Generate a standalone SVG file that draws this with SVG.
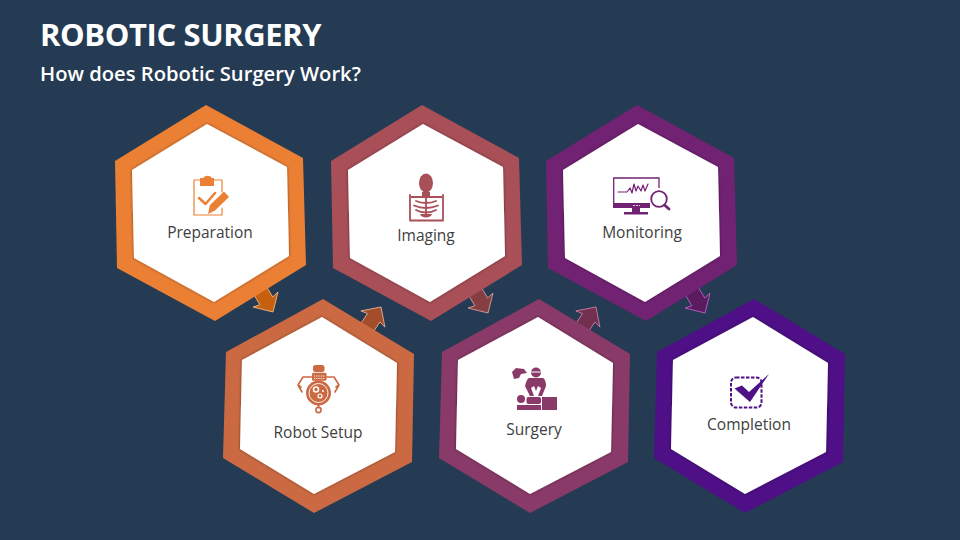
<svg xmlns="http://www.w3.org/2000/svg" xmlns:xlink="http://www.w3.org/1999/xlink" width="960" height="540" viewBox="0 0 960 540">
<style>
.title{font-family:"Open Sans","Liberation Sans",sans-serif;fill:#fff;font-weight:700}
.label{font-family:"Open Sans","Liberation Sans",sans-serif;font-size:15.5px;fill:#404040;text-anchor:middle}
.arrow{stroke-width:.8}
.line{fill:none;stroke-linecap:round;stroke-linejoin:round}
.inner{fill:#fff;filter:url(#edge)}
</style>
<defs>
<polygon id="outer" points="91,0 188,53 191,160 100,216 2,163 0,56"/>
<polygon id="inner" points="92,19 172,62 174,151 99,197 19,153 17,65"/>
<polygon id="outer2" points="100,0 191,55 189,163 91,214 0,159 3,53"/>
<polygon id="inner2" points="99,18 174,64 172,153 91,195 17,150 19,61"/>
<polygon id="arr" points="0,0 -14.500,14.500 -13,7.500 -32,7.500 -32,-7.500 -13,-7.500 -14.500,-14.500"/>
<filter id="edge" x="-10%" y="-10%" width="120%" height="120%">
<feDropShadow dx="0" dy="0" stdDeviation="1.800" flood-color="#000" flood-opacity=".5"/>
</filter>
</defs>
<rect width="960" height="540" fill="#253B54"/>
<text class="title" x="40" y="46" font-size="31" letter-spacing="-.4">ROBOTIC SURGERY</text>
<text class="title" x="40" y="81" font-size="20.200" style="font-weight:600">How does Robotic Surgery Work?</text>

<g id="connectors">
<use xlink:href="#arr" class="arrow" transform="translate(273,312) rotate(59)" fill="#C5600F" stroke="#F2B98C"/>
<use xlink:href="#arr" class="arrow" transform="translate(381,307) rotate(-56)" fill="#A34D2A" stroke="#E8B39A"/>
<use xlink:href="#arr" class="arrow" transform="translate(488,313) rotate(59)" fill="#853F42" stroke="#D8A09A"/>
<use xlink:href="#arr" class="arrow" transform="translate(596,307) rotate(-56)" fill="#722F50" stroke="#D080A8"/>
<use xlink:href="#arr" class="arrow" transform="translate(705,313) rotate(59)" fill="#5A1C5E" stroke="#C060C8"/>
</g>

<g id="node-preparation" transform="translate(115,105)">
<use xlink:href="#outer" fill="#EB8035"/><use xlink:href="#inner" class="inner"/>
<g transform="translate(-115,-105)" stroke="#EB8035" fill="#EB8035">
<path class="line" stroke-width="1.200" d="M200,180H194V215H222V208M214,180H222V192"/>
<path stroke="none" d="M200,178H203.500C204,175 211,175 211.500,178H214V186H200Z"/>
<path class="line" stroke-width="2.500" d="M199,198L205.500,204L215,193"/>
<path stroke="none" d="M208,214L210,205L224,191.500L229,197L215,210.500Z"/>
</g>
<text class="label" x="95" y="133">Preparation</text>
</g>

<g id="node-imaging" transform="translate(331,105)">
<use xlink:href="#outer" fill="#A94F58"/><use xlink:href="#inner" class="inner"/>
<g transform="translate(-331,-105)" stroke="#A94F58">
<ellipse cx="426" cy="183" rx="7" ry="9.500" fill="#A94F58" stroke="none"/>
<path fill="#A94F58" stroke="none" d="M422,192H430V196H442V198H411V196H422Z"/>
<path class="line" stroke-width="1.800" d="M410,195V220.500H443V195"/>
<path class="line" stroke-width="1.800" d="M426,197V214M416,201C420,203 423,203 426,203C429,203 432,203 436,201M414,205.500C420,208 423,208 426,208C429,208 432,208 438,205.500M416,210C420,212.500 423,212.500 426,212.500C429,212.500 432,212.500 436,210"/>
<path fill="#A94F58" stroke="none" d="M420,214H432C431,218.500 421,218.500 420,214Z"/>
</g>
<text class="label" x="95" y="136">Imaging</text>
</g>

<g id="node-monitoring" transform="translate(546,105)">
<use xlink:href="#outer" fill="#722273"/><use xlink:href="#inner" class="inner"/>
<g transform="translate(-546,-105)" stroke="#722273" fill="#722273">
<path fill="none" stroke-width="1.300" d="M659,188V178H613.700V206"/>
<path stroke="none" d="M613,203H650V208H640V212H648V214.500H624V212H632V208H613Z"/>
<path stroke="#fff" stroke-width=".8" stroke-dasharray="2 1" d="M633,205.500H640"/>
<path class="line" stroke-width="1.200" d="M618,192H627L630,188L632,193L634,184L636,191L638,186L641,191L643,185L645,191L648,184"/>
<circle cx="659" cy="199" r="7.800" fill="#fff" stroke-width="1.800"/>
<path class="line" stroke-width="2.800" d="M664.500,205L669,209"/>
</g>
<text class="label" x="96" y="133">Monitoring</text>
</g>

<g id="node-robot" transform="translate(223,299)">
<use xlink:href="#outer2" fill="#CB6A42"/><use xlink:href="#inner2" class="inner"/>
<g transform="translate(-223,-299)" stroke="#CB6A42" fill="#CB6A42">
<rect x="313" y="365" width="11.500" height="7" rx="2.500" stroke="none"/>
<rect x="312" y="372.800" width="14.500" height="8" rx="1.500" stroke="none"/>
<path stroke="#fff" stroke-width=".9" stroke-dasharray="1 .8" d="M314,376H325M314,378.500H325" fill="none"/>
<circle cx="318.500" cy="393" r="12.500" stroke="none"/>
<circle cx="318.500" cy="393" r="9.500" fill="none" stroke="#fff" stroke-width=".9"/>
<circle cx="316" cy="389.500" r="2.500" fill="none" stroke="#fff" stroke-width="1.500"/>
<circle cx="320" cy="396" r="2" fill="none" stroke="#fff" stroke-width="1.200"/>
<circle cx="323" cy="391" r="1" fill="#fff" stroke="none"/>
<path class="line" stroke-width="1.600" d="M312,377H303L298,385L302,392M298,385L301,387M326,377H334L339,385L335,392M339,385L336,387"/>
<path class="line" stroke-width="1.800" d="M318.500,405V407"/>
<circle cx="318.500" cy="410" r="2.600" fill="#fff" stroke-width="1.600"/>
</g>
<text class="label" x="95" y="139">Robot Setup</text>
</g>

<g id="node-surgery" transform="translate(439,299)">
<use xlink:href="#outer2" fill="#8A3A68"/><use xlink:href="#inner2" class="inner"/>
<g transform="translate(-439,-299)" fill="#8A3A68">
<path d="M512,372L516,368L524,369L527,373L521,374L519,378L514,379Z"/>
<circle cx="536" cy="372.500" r="5"/>
<path fill="#fff" d="M531,371.500H541V372.500H531Z"/>
<path d="M529,378H543C545,379 546,382 546,386L542,396H538L541,388L538,386L536,391L534,386L531,388L534,396H530L525,386C526,382 527,379 529,378Z"/>
<circle cx="521" cy="399" r="4"/>
<rect x="526.500" y="397" width="14.500" height="7" rx="2"/>
<rect x="517" y="405" width="24" height="5"/>
<rect x="542" y="397" width="15" height="13"/>
</g>
<text class="label" x="95" y="136">Surgery</text>
</g>

<g id="node-completion" transform="translate(654,299)">
<use xlink:href="#outer2" fill="#4E0F87"/><use xlink:href="#inner2" class="inner"/>
<g transform="translate(-654,-299)" fill="#4E0F87">
<rect x="731" y="377.500" width="30.500" height="30" rx="5" fill="none" stroke="#4E0F87" stroke-width="2" stroke-dasharray="3.500 1.500"/>
<path d="M734.500,388.500L742,385.500L749,392L769,374L750,402Z"/>
</g>
<text class="label" x="95" y="131">Completion</text>
</g>
</svg>
